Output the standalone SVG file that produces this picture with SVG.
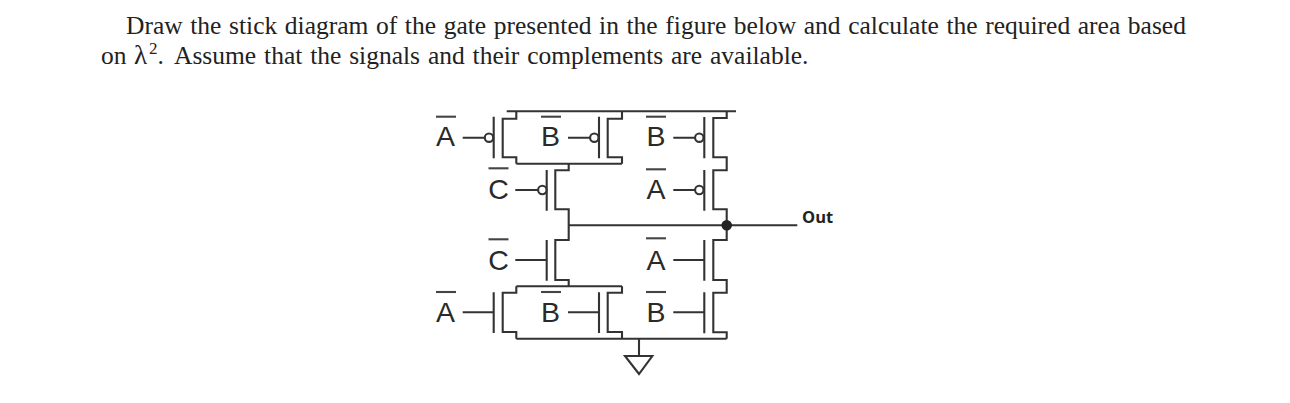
<svg xmlns="http://www.w3.org/2000/svg" width="1290" height="403" viewBox="0 0 1290 403">
<style>
.t{font-family:"Liberation Serif",serif;font-size:25.500px;fill:#222}
.l{font-family:"Liberation Sans",sans-serif;font-size:28.500px;fill:#2a2a2a;text-anchor:middle}
.o{font-family:"Open Sans",sans-serif;font-size:16.500px;font-weight:700;fill:#222}
.w{fill:none;stroke:#333;stroke-width:2.100;stroke-linejoin:miter}
.g{fill:none;stroke:#333;stroke-width:2.100}
.b{fill:none;stroke:#444;stroke-width:2.100}
.c{fill:#fff;stroke:#333;stroke-width:2.100}
</style>
<rect width="1290" height="403" fill="#fff"/>
<text class="t" x="126" y="33.500" word-spacing="1.250">Draw the stick diagram of the gate presented in the figure below and calculate the required area based</text>
<text class="t" y="63.500" word-spacing="1.500"><tspan x="101">on</tspan> <tspan x="134" font-size="27">λ</tspan><tspan x="149" dy="-10" font-size="17">2</tspan><tspan x="157.500" dy="10">.</tspan> <tspan x="174">Assume that the signals and their complements are available.</tspan></text>
<g id="connectors">
<path class="w" d="M506.700 111.300H736M516.300 163.700H622M568.700 225.300H797.300M516.300 286.300H622M516.300 338.700H726.700"/>
<path class="w" d="M516.300 111.300V118.700H502.700V157.300H516.300V163.700M622 111.300V118.700H607.700V157.300H622V163.700"/>
<path class="w" d="M726.700 111.300V118H713.300V157.300H726.700V170.300H713.300V209.300H726.700V240H713.300V280H726.700V292.700H713.300V332.300H726.700V338.700"/>
<path class="w" d="M568.700 163.700V170.300H555.300V209.300H568.700V240H555.300V280H568.700V286.300"/>
<path class="w" d="M516.300 286.300V292.700H502.700V332H516.300V338.700M622 286.300V292.700H607.700V332H622V338.700"/>
<path class="w" d="M639 338.700V356"/>
</g>
<g id="p-a"><text class="l" x="445.500" y="146">A</text><path class="b" d="M436 116.700H456"/><path class="g" d="M462.700 137.700H485M493.700 116.700V158.300"/><circle class="c" cx="489" cy="137.700" r="4.200"/></g>
<g id="p-b1"><text class="l" x="550.500" y="146">B</text><path class="b" d="M541 116.700H561"/><path class="g" d="M568 137.700H590M599 116.700V158.300"/><circle class="c" cx="594.300" cy="137.700" r="4.200"/></g>
<g id="p-b2"><text class="l" x="656" y="146">B</text><path class="b" d="M646 116.700H666"/><path class="g" d="M673.300 137.700H695M704.300 117V158.300"/><circle class="c" cx="699.300" cy="137.700" r="4.200"/></g>
<g id="p-c"><text class="l" x="498.500" y="199">C</text><path class="b" d="M488.500 168.300H508.500"/><path class="g" d="M515.300 190H538M546.700 170V210.700"/><circle class="c" cx="542.300" cy="190" r="4.200"/></g>
<g id="p-a2"><text class="l" x="656" y="199">A</text><path class="b" d="M646 169.300H666"/><path class="g" d="M673.300 190H695M704.300 170V210.700"/><circle class="c" cx="699.300" cy="190" r="4.200"/></g>
<g id="n-c"><text class="l" x="498.500" y="269.500">C</text><path class="b" d="M488.500 239.300H508.500"/><path class="g" d="M515.300 260H546.700M546.700 240V280.700"/></g>
<g id="n-a2"><text class="l" x="656" y="270">A</text><path class="b" d="M646 238.300H666"/><path class="g" d="M673.300 260H704.300M704.300 240V280.700"/></g>
<g id="n-a"><text class="l" x="445.500" y="321.700">A</text><path class="b" d="M436 292H456"/><path class="g" d="M462.700 312.300H493.700M493.700 292.300V333"/></g>
<g id="n-b1"><text class="l" x="550.500" y="321.700">B</text><path class="b" d="M541 292H561"/><path class="g" d="M568 312.300H599M599 292.300V333"/></g>
<g id="n-b2"><text class="l" x="656" y="321.700">B</text><path class="b" d="M646 292H666"/><path class="g" d="M673.300 312.300H704.300M704.300 292.300V333.300"/></g>
<g id="out-dot"><circle cx="726.700" cy="225.300" r="5.300" fill="#222"/></g>
<g id="out"><text class="o" x="802" y="222.700">Out</text></g>
<g id="gnd"><path class="w" d="M625 356H652.300L639 374Z"/></g>
</svg>
